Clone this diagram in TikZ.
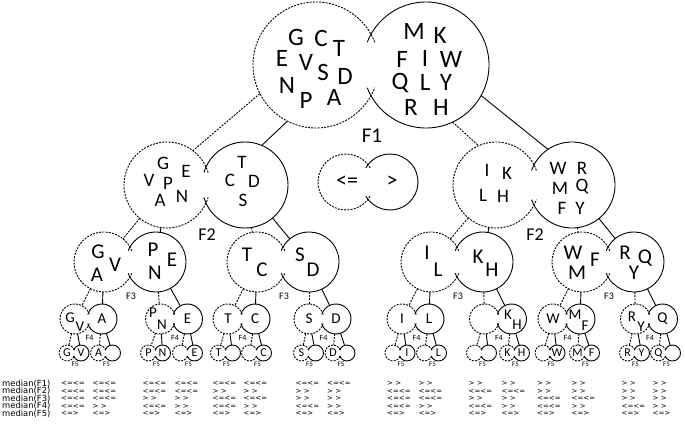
\documentclass[tikz,border=0pt]{standalone}
\usepackage{fontspec}
\setmainfont{Carlito}
\newfontfamily\tabfont{DejaVu Sans}
\newcommand{\fsz}[1]{\fontsize{#1}{#1}\selectfont}

\begin{document}
\begin{tikzpicture}
	[x=1pt,y=-1pt,
	 cn/.style={circle,draw=none,inner sep=0pt,outer sep=0pt},
	 dsh/.style={line width=0.9pt,dash pattern=on 2pt off 1.2pt},
	 sld/.style={line width=0.9pt},
	 flab/.style={anchor=north,inner sep=0pt},
	 big/.style={inner sep=0pt,font=\fsz{25}},
	 mid/.style={inner sep=0pt,font=\fsz{19}},
	 lvl/.style={inner sep=0pt,font=\fsz{21}},
	 sml/.style={inner sep=0pt,font=\fsz{15}},
	 tny/.style={inner sep=0pt,font=\fsz{12}},
	 md/.style={anchor=west,inner sep=0pt,font=\tabfont\fsz{8.4}},
	 mv/.style={anchor=west,inner sep=0pt,font=\tabfont\fsz{7}}]
	\useasboundingbox (0,0) rectangle (685,425);
	
	\foreach \p/\xa/\xb/\y/\r/\l/\fs in {
		r/316/426/65/63/1/21, key/346/390/182/28/0/0,
		ra/167/245/185/43/2/18, rb/496/572/185/43/2/18,
		raa/104/156/262/30/3/10, rab/257/309/262/30/3/10,
		rba/431/483/262/30/3/10, rbb/582/634/262/30/3/10,
		raaa/75/102/319/15/4/8, raab/160.5/187.5/319/15/4/8,
		raba/228/255/319/15/4/8, rabb/309/336/319/15/4/8,
		rbaa/402/429/319/15/4/8, rbab/484.5/511.5/319/15/4/8,
		rbba/553/580/319/15/4/8, rbbb/635.5/662.5/319/15/4/8,
		raaaa/67/81/353/8/5/7, raaab/98.5/112.5/353/8/5/7,
		raaba/148.5/162.5/353/8/5/7, raabb/180.5/194.5/353/8/5/7,
		rabaa/218.5/232.5/353/8/5/7, rabab/249.5/263.5/353/8/5/7,
		rabba/301.5/315.5/353/8/5/7, rabbb/333/347/353/8/5/7,
		rbaaa/393/407/353/8/5/7, rbaab/424.5/438.5/353/8/5/7,
		rbaba/474.5/488.5/353/8/5/7, rbabb/507.5/521.5/353/8/5/7,
		rbbaa/543/557/353/8/5/7, rbbab/577.5/591.5/353/8/5/7,
		rbbba/627.5/641.5/353/8/5/7, rbbbb/658.5/672.5/353/8/5/7}{
		\node[cn,minimum size=2*\r] (\p a) at (\xa,\y) {};
		\node[cn,minimum size=2*\r] (\p b) at (\xb,\y) {};
		\pgfmathsetmacro\ang{acos((\xb-\xa)/(2*\r))}
		\draw[dsh] (\p a.center) ++(\ang-8:\r pt) arc[start angle=\ang-8,end angle=368-\ang,radius=\r pt];
		\draw[sld] (\p b.center) ++(172+\ang:\r pt) arc[start angle=172+\ang,end angle=548-\ang,radius=\r pt];
		\ifnum\l>0 \node[flab,font=\fsz{\fs}] (f\p) at ({(\xa+\xb)/2+1},\y+\r+1) {F\l}; \fi
		\ifnum\l>2 \draw[dsh] (\p) -- (\p a); \draw[sld] (\p) -- (\p b); \fi
	}
	
	\draw[dsh] (ra.207) -- (raa.53);
	\draw[sld] (ra.243) -- (rab.67);
	\draw[dsh] (rb.295) -- (rba.114);
	\draw[sld] (rb.331) -- (rbb.124);
	
	\foreach \t/\x/\y [count=\i] in {G/296/37,C/321/38,T/339/48,E/282/58,V/306/62,S/323/72,D/345/76,N/287/85,P/306/100,A/334/97,
		M/414/31,K/440/35,F/402/59,I/425/58,W/451/59,Q/400/83,L/425/82,Y/446/82,R/411/107,H/441/107}
		\node[big] (ta\i) at (\x,\y) {\t};
	\foreach \t/\x/\y [count=\i] in {G/163/163,E/186/171,V/149/180,P/168/183,N/182/196,A/160/200,
		T/242/162,C/230/180,D/254/181,S/243/200,I/487/170,K/507/173,L/483/195,H/503/196,
		W/558/168,R/582/168,M/560/188,Q/582/187,F/562/208,Y/580/208}
		\node[mid] (tb\i) at (\x,\y) {\t};
	\foreach \t/\x/\y [count=\i] in {G/98/252,A/97/275,V/115/265,P/153/250,N/155/273,E/172/260,T/247/255,C/262/270,S/300/255,D/313/270,
		I/427/253,L/438/270,K/478/257,H/492/270,W/573/253,M/577/273,F/595/260,R/625/253,Q/645/258,Y/634/273}
		\node[lvl] (tc\i) at (\x,\y) {\t};
	\foreach \t/\x/\y [count=\i] in {G/70/318,V/80/327,P/153/313,N/162/325,K/508/315,H/517/325,M/575/315,F/585/326,R/632/317,Y/641/327}
		\node[sml] (td\i) at (\x,\y) {\t};
	\foreach \n/\t in {raaab/A,raabb/E,rabaa/T,rabab/C,rabba/S,rabbb/D,rbaaa/I,rbaab/L,rbbaa/W,rbbbb/Q}
		\node[sml] (s\n) at (\n) {\t};
	\foreach \n/\t in {raaaaa/G,raaaab/V,raaaba/A,raabaa/P,raabab/N,raabbb/E,rabaaa/T,rababb/C,rabbaa/S,rabbba/D,
		rbaaab/I,rbaabb/L,rbabba/K,rbabbb/H,rbbaab/W,rbbaba/M,rbbabb/F,rbbbaa/R,rbbbab/Y,rbbbba/Q}
		\node[tny] (s\n) at (\n) {\t};
	
	\node[inner sep=0pt,font=\fsz{22}] (kle) at (347,182) {<=};
	\node[inner sep=0pt,font=\fsz{22}] (kgt) at (392,182) {>};
	
	\foreach \k/\y in {1/383.5,2/391,3/398.5,4/406,5/413.5}
		\node[md] (md\k) at (2,\y) {median(F\k)};
	\foreach \x [count=\i from 0] in {74,105.5,155.5,187.5,225.5,256.5,308.5,340,400,431.5,481.5,514.5,550,584.5,634.5,665.5}{
		\foreach \k/\d/\y in {1/8/383.5,2/4/391,3/2/398.5,4/1/406}{
			\pgfmathtruncatemacro\bit{mod(int(\i/\d),2)}
			\node[mv] (v\k-\i) at (\x-13,\y) {\ifnum\bit=0 <=<=\else > >\fi};
		}
		\node[mv] (v5-\i) at (\x-13,413.5) {<=>};
	}
\end{tikzpicture}
\end{document}
